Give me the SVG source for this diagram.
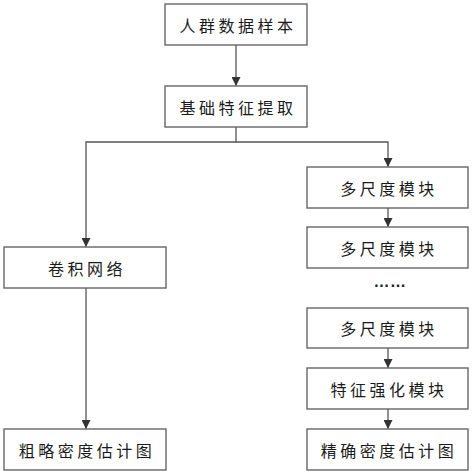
<svg xmlns="http://www.w3.org/2000/svg" width="474" height="475" viewBox="0 0 474 475">
<defs>
<marker id="arr" markerWidth="9" markerHeight="9" refX="9" refY="4.5" orient="auto" markerUnits="userSpaceOnUse">
<path d="M0,0 L9,4.5 L0,9 z" fill="#333"/>
</marker>
</defs>
<style>
.box{fill:#fff;stroke:#666;stroke-width:1.4}
.t{font-family:"Noto Sans CJK SC","Noto Sans CJK JP",sans-serif;font-size:16px;font-weight:400;fill:#1a1a1a;text-anchor:middle;dominant-baseline:central;letter-spacing:3.5px}
.ln{fill:none;stroke:#555;stroke-width:1.3}
</style>
<rect width="474" height="475" fill="#fff"/>
<g id="connectors">
<line class="ln" x1="236" y1="45" x2="236" y2="86" marker-end="url(#arr)"/>
<polyline class="ln" points="236,127 236,142 86,142 86,247" marker-end="url(#arr)"/>
<polyline class="ln" points="236,142 388,142 388,167" marker-end="url(#arr)"/>
<line class="ln" x1="388" y1="208" x2="388" y2="227" marker-end="url(#arr)"/>
<line class="ln" x1="388" y1="348" x2="388" y2="368" marker-end="url(#arr)"/>
<line class="ln" x1="388" y1="409" x2="388" y2="429" marker-end="url(#arr)"/>
<line class="ln" x1="86" y1="288" x2="86" y2="429" marker-end="url(#arr)"/>
</g>
<g id="n1"><rect class="box" x="165" y="4" width="142" height="41"/><text class="t" x="238" y="24.5">人群数据样本</text></g>
<g id="n2"><rect class="box" x="165" y="86" width="142" height="41"/><text class="t" x="238" y="106.5">基础特征提取</text></g>
<g id="n3"><rect class="box" x="307" y="167" width="161" height="41"/><text class="t" x="389" y="187.5">多尺度模块</text></g>
<g id="n4"><rect class="box" x="307" y="227" width="161" height="41"/><text class="t" x="389" y="247.5">多尺度模块</text></g>
<g id="dots"><text x="390" y="287" font-family="Liberation Sans, sans-serif" font-size="16" font-weight="bold" fill="#222" text-anchor="middle" letter-spacing="0.5">……</text></g>
<g id="n5"><rect class="box" x="307" y="308" width="161" height="40"/><text class="t" x="389" y="328">多尺度模块</text></g>
<g id="n6"><rect class="box" x="307" y="368" width="161" height="41"/><text class="t" x="389" y="388.5">特征强化模块</text></g>
<g id="n7"><rect class="box" x="307" y="429" width="161" height="41"/><text class="t" x="389" y="449.5">精确密度估计图</text></g>
<g id="n8"><rect class="box" x="4" y="247" width="162" height="41"/><text class="t" x="87" y="267.5">卷积网络</text></g>
<g id="n9"><rect class="box" x="4" y="429" width="162" height="41"/><text class="t" x="87" y="449.5">粗略密度估计图</text></g>
</svg>
